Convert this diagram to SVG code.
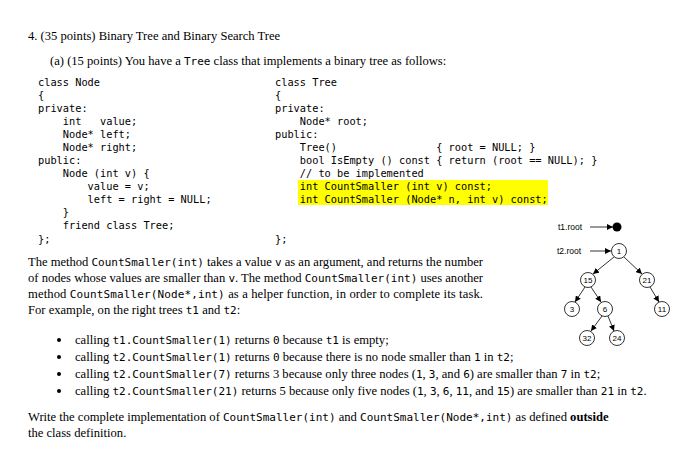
<svg xmlns="http://www.w3.org/2000/svg" width="682" height="449" viewBox="0 0 682 449">
<style>
text{fill:#000}
.s{font-family:"Liberation Serif",serif;font-size:12.6px}
.m text{font-family:"DejaVu Sans Mono","Liberation Mono",monospace;font-size:10.3px;white-space:pre}
.mi{font-family:"DejaVu Sans Mono","Liberation Mono",monospace;font-size:11px}
.n circle{fill:#fff;stroke:#000;stroke-width:0.8}
.n text{font-family:"Liberation Sans",sans-serif;font-size:8px;text-anchor:middle}
.lbl{font-family:"Liberation Sans",sans-serif;font-size:8.5px}
.c line{stroke:#000;stroke-width:0.8;marker-end:url(#a)}
</style>
<defs><marker id="a" viewBox="0 0 10 10" refX="10" refY="5" markerWidth="6" markerHeight="6" orient="auto" markerUnits="userSpaceOnUse"><path d="M0,0L10,5L0,10z" fill="#000"/></marker></defs>
<rect width="682" height="449" fill="#fff"/>
<text class="s" x="28" y="40">4. (35 points) Binary Tree and Binary Search Tree</text>
<text class="s" x="50" y="65">(a) (15 points) You have a <tspan class="mi">Tree</tspan> class that implements a binary tree as follows:</text>
<rect x="298" y="180" width="250" height="25" fill="#ffff00"/>
<g class="m">
<text xml:space="preserve" x="38" y="86">class Node</text>
<text xml:space="preserve" x="38" y="99">{</text>
<text xml:space="preserve" x="38" y="112">private:</text>
<text xml:space="preserve" x="38" y="125">    int   value;</text>
<text xml:space="preserve" x="38" y="138">    Node* left;</text>
<text xml:space="preserve" x="38" y="151">    Node* right;</text>
<text xml:space="preserve" x="38" y="164">public:</text>
<text xml:space="preserve" x="38" y="177">    Node (int v) {</text>
<text xml:space="preserve" x="38" y="190">        value = v;</text>
<text xml:space="preserve" x="38" y="203">        left = right = NULL;</text>
<text xml:space="preserve" x="38" y="216">    }</text>
<text xml:space="preserve" x="38" y="229">    friend class Tree;</text>
<text xml:space="preserve" x="38" y="243">};</text>
<text xml:space="preserve" x="275" y="86">class Tree</text>
<text xml:space="preserve" x="275" y="99">{</text>
<text xml:space="preserve" x="275" y="112">private:</text>
<text xml:space="preserve" x="275" y="125">    Node* root;</text>
<text xml:space="preserve" x="275" y="138">public:</text>
<text xml:space="preserve" x="275" y="151">    Tree()                { root = NULL; }</text>
<text xml:space="preserve" x="275" y="164">    bool IsEmpty () const { return (root == NULL); }</text>
<text xml:space="preserve" x="275" y="177">    // to be implemented</text>
<text xml:space="preserve" x="275" y="190">    int CountSmaller (int v) const;</text>
<text xml:space="preserve" x="275" y="203">    int CountSmaller (Node* n, int v) const;</text>
<text xml:space="preserve" x="275" y="243">};</text>
</g>
<text class="s" x="28" y="266" textLength="455" lengthAdjust="spacing">The method <tspan class="mi">CountSmaller(int)</tspan> takes a value <tspan class="mi">v</tspan> as an argument, and returns the number</text>
<text class="s" x="28" y="282" textLength="455" lengthAdjust="spacing">of nodes whose values are smaller than <tspan class="mi">v</tspan>. The method <tspan class="mi">CountSmaller(int)</tspan> uses another</text>
<text class="s" x="28" y="298" textLength="455" lengthAdjust="spacing">method <tspan class="mi">CountSmaller(Node*,int)</tspan> as a helper function, in order to complete its task.</text>
<text class="s" x="28" y="314">For example, on the right trees <tspan class="mi">t1</tspan> and <tspan class="mi">t2</tspan>:</text>
<g fill="#000"><circle cx="59" cy="340" r="2"/><circle cx="59" cy="357" r="2"/><circle cx="59" cy="374" r="2"/><circle cx="59" cy="391" r="2"/></g>
<text class="s" x="75" y="344">calling <tspan class="mi">t1.CountSmaller(1)</tspan> returns <tspan class="mi">0</tspan> because <tspan class="mi">t1</tspan> is empty;</text>
<text class="s" x="75" y="361">calling <tspan class="mi">t2.CountSmaller(1)</tspan> returns <tspan class="mi">0</tspan> because there is no node smaller than <tspan class="mi">1</tspan> in <tspan class="mi">t2</tspan>;</text>
<text class="s" x="75" y="378">calling <tspan class="mi">t2.CountSmaller(7)</tspan> returns 3 because only three nodes (<tspan class="mi">1</tspan>, <tspan class="mi">3</tspan>, and <tspan class="mi">6</tspan>) are smaller than <tspan class="mi">7</tspan> in <tspan class="mi">t2</tspan>;</text>
<text class="s" x="75" y="395">calling <tspan class="mi">t2.CountSmaller(21)</tspan> returns 5 because only five nodes (<tspan class="mi">1</tspan>, <tspan class="mi">3</tspan>, <tspan class="mi">6</tspan>, <tspan class="mi">11</tspan>, and <tspan class="mi">15</tspan>) are smaller than <tspan class="mi">21</tspan> in <tspan class="mi">t2</tspan>.</text>
<text class="s" x="28" y="421">Write the complete implementation of <tspan class="mi">CountSmaller(int)</tspan> and <tspan class="mi">CountSmaller(Node*,int)</tspan> as defined <tspan font-weight="bold">outside</tspan></text>
<text class="s" x="28" y="437">the class definition.</text>
<text class="lbl" x="558" y="230">t1.root</text>
<text class="lbl" x="557" y="254">t2.root</text>
<g class="c">
<line x1="590" y1="227" x2="613" y2="227"/>
<line x1="590" y1="251" x2="611" y2="251"/>
<line x1="614" y1="257" x2="593" y2="274"/>
<line x1="624" y1="257" x2="642" y2="274"/>
<line x1="585" y1="287" x2="575" y2="302"/>
<line x1="591" y1="287" x2="601" y2="302"/>
<line x1="650" y1="287" x2="659" y2="302"/>
<line x1="602" y1="316" x2="591" y2="331"/>
<line x1="608" y1="316" x2="614" y2="331"/>
</g>
<circle cx="617" cy="227" r="4.5" fill="#000"/>
<g id="n1" class="n"><circle cx="619" cy="251" r="7.5"/><text x="619" y="254">1</text></g>
<g id="n15" class="n"><circle cx="588" cy="280" r="7.5"/><text x="588" y="283">15</text></g>
<g id="n21" class="n"><circle cx="647" cy="280" r="7.5"/><text x="647" y="283">21</text></g>
<g id="n3" class="n"><circle cx="572" cy="309" r="7.5"/><text x="572" y="312">3</text></g>
<g id="n6" class="n"><circle cx="605" cy="309" r="7.5"/><text x="605" y="312">6</text></g>
<g id="n11" class="n"><circle cx="662" cy="309" r="7.5"/><text x="662" y="312">11</text></g>
<g id="n32" class="n"><circle cx="587" cy="338" r="7.5"/><text x="587" y="341">32</text></g>
<g id="n24" class="n"><circle cx="617" cy="338" r="7.5"/><text x="617" y="341">24</text></g>
</svg>
